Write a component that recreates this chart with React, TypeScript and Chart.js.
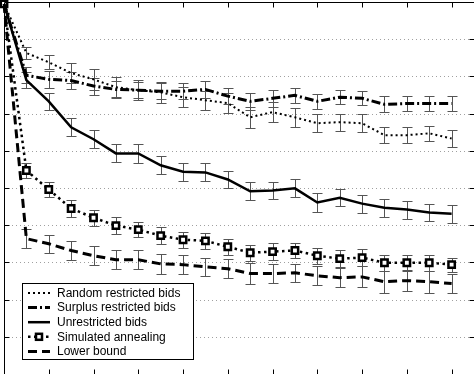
import React, { useEffect, useRef } from "react";
import { Chart, registerables } from "chart.js";

Chart.register(...registerables);

const rounds = [0, 1, 2, 3, 4, 5, 6, 7, 8, 9, 10, 11, 12, 13, 14, 15, 16, 17, 18, 19, 20];
const xTickValues = [2, 4, 6, 8, 10, 12, 14, 16, 18, 20];
const yTickValues = [1, 2, 3, 4, 5, 6, 7, 8, 9];

const seriesNames = [
  "Random restricted bids",
  "Surplus restricted bids",
  "Unrestricted bids",
  "Simulated annealing",
  "Lower bound",
];

const randomRestricted = [9.95, 8.63, 8.38, 8.09, 7.92, 7.71, 7.63, 7.57, 7.44, 7.36, 7.28, 6.9, 7.04, 6.9, 6.74, 6.77, 6.74, 6.42, 6.42, 6.47, 6.33];
const surplusRestricted = [9.95, 8.03, 7.92, 7.89, 7.74, 7.65, 7.63, 7.6, 7.6, 7.65, 7.47, 7.33, 7.41, 7.49, 7.33, 7.44, 7.41, 7.25, 7.27, 7.27, 7.27];
const unrestricted = [9.95, 7.9, 7.33, 6.63, 6.31, 5.93, 5.93, 5.61, 5.44, 5.42, 5.23, 4.91, 4.93, 4.99, 4.61, 4.74, 4.58, 4.47, 4.42, 4.34, 4.31];
const simulatedAnnealing = [9.95, 5.47, 4.96, 4.45, 4.2, 3.99, 3.88, 3.72, 3.61, 3.58, 3.42, 3.26, 3.29, 3.32, 3.18, 3.1, 3.13, 2.99, 2.99, 2.99, 2.94];
const lowerBound = [9.95, 3.64, 3.5, 3.32, 3.18, 3.07, 3.07, 2.96, 2.94, 2.88, 2.83, 2.7, 2.7, 2.72, 2.64, 2.59, 2.61, 2.48, 2.51, 2.48, 2.43];

const randomErr = [0, 0.16, 0.19, 0.27, 0.28, 0.27, 0.26, 0.28, 0.27, 0.26, 0.27, 0.28, 0.26, 0.25, 0.24, 0.23, 0.24, 0.22, 0.22, 0.21, 0.22];
const surplusErr = [0, 0.21, 0.22, 0.24, 0.23, 0.22, 0.22, 0.21, 0.22, 0.23, 0.22, 0.22, 0.23, 0.21, 0.2, 0.19, 0.19, 0.21, 0.2, 0.2, 0.2];
const unrestrictedErr = [0, 0.22, 0.23, 0.24, 0.24, 0.24, 0.25, 0.24, 0.24, 0.24, 0.24, 0.24, 0.23, 0.24, 0.25, 0.23, 0.24, 0.24, 0.24, 0.24, 0.24];
const annealingErr = [0, 0.2, 0.2, 0.22, 0.21, 0.22, 0.21, 0.22, 0.22, 0.21, 0.22, 0.22, 0.23, 0.21, 0.22, 0.23, 0.22, 0.21, 0.22, 0.22, 0.19];
const lowerErr = [0, 0.26, 0.25, 0.26, 0.25, 0.25, 0.25, 0.26, 0.26, 0.25, 0.26, 0.29, 0.25, 0.25, 0.26, 0.26, 0.28, 0.3, 0.29, 0.3, 0.26];

const xMin = 0;
const xMax = 21;
const yMin = 0;
const yMax = 10;

const seriesValues = [randomRestricted, surplusRestricted, unrestricted, simulatedAnnealing, lowerBound];
const seriesErrors = [randomErr, surplusErr, unrestrictedErr, annealingErr, lowerErr];

const styles = [
  { width: 2, dash: [2, 3], marker: false },
  { width: 3, dash: [9, 3, 2, 3], marker: false },
  { width: 2.5, dash: [], marker: false },
  { width: 2.5, dash: [2.5, 3.5], marker: true },
  { width: 3, dash: [9, 5], marker: false },
];

const FONT = "12px 'Liberation Sans', Arial, Helvetica, sans-serif";

const gridAndErrorPlugin = {
  id: "gridAndErrors",
  beforeDatasetsDraw(chart: any) {
    const ctx = chart.ctx;
    const a = chart.chartArea;
    const xs = chart.scales.x;
    const ys = chart.scales.y;
    ctx.save();
    ctx.strokeStyle = "#a0a0a0";
    ctx.lineWidth = 1;
    ctx.setLineDash([1, 3]);
    ctx.beginPath();
    yTickValues.forEach((v) => {
      const py = Math.round(ys.getPixelForValue(v)) + 0.5;
      ctx.moveTo(a.left, py);
      ctx.lineTo(a.right, py);
    });
    ctx.stroke();
    ctx.strokeStyle = "#555555";
    ctx.setLineDash([]);
    ctx.beginPath();
    seriesValues.forEach((vals, si) => {
      const errs = seriesErrors[si];
      vals.forEach((v, i) => {
        const e = errs[i];
        if (!e) return;
        const px = Math.round(xs.getPixelForValue(rounds[i])) + 0.5;
        const y1 = Math.round(ys.getPixelForValue(v + e)) + 0.5;
        const y2 = Math.round(ys.getPixelForValue(v - e)) + 0.5;
        ctx.moveTo(px, y1);
        ctx.lineTo(px, y2);
        ctx.moveTo(px - 5, y1);
        ctx.lineTo(px + 5, y1);
        ctx.moveTo(px - 5, y2);
        ctx.lineTo(px + 5, y2);
      });
    });
    ctx.stroke();
    ctx.restore();
  },
};

const framePlugin = {
  id: "frameAndLegend",
  afterDraw(chart: any) {
    const ctx = chart.ctx;
    const a = chart.chartArea;
    const xs = chart.scales.x;
    const ys = chart.scales.y;
    ctx.save();
    ctx.setLineDash([]);
    ctx.strokeStyle = "#000";
    ctx.lineWidth = 1;
    const l = Math.round(a.left) + 0.5;
    const t = Math.round(a.top) + 0.5;
    const r = Math.round(a.right) + 0.5;
    const b = Math.round(a.bottom) + 0.5;
    ctx.beginPath();
    ctx.moveTo(l, b);
    ctx.lineTo(l, t);
    ctx.lineTo(r, t);
    ctx.lineTo(r, b);
    ctx.lineTo(l, b);
    yTickValues.forEach((v) => {
      const py = Math.round(ys.getPixelForValue(v)) + 0.5;
      ctx.moveTo(l, py);
      ctx.lineTo(l + 5, py);
      ctx.moveTo(r, py);
      ctx.lineTo(r - 5, py);
    });
    xTickValues.forEach((v) => {
      const px = Math.round(xs.getPixelForValue(v)) + 0.5;
      ctx.moveTo(px, t);
      ctx.lineTo(px, t + 5);
      ctx.moveTo(px, b);
      ctx.lineTo(px, b - 5);
    });
    ctx.stroke();

    const bx = 22.5, by = 283.5, bw = 171, bh = 76;
    ctx.fillStyle = "#fff";
    ctx.fillRect(bx, by, bw, bh);
    ctx.strokeStyle = "#000";
    ctx.lineWidth = 1;
    ctx.strokeRect(bx, by, bw, bh);
    ctx.font = FONT;
    ctx.textBaseline = "middle";
    ctx.fillStyle = "#000";
    seriesNames.forEach((name, i) => {
      const cy = 293 + i * 14.6;
      const st = styles[i];
      ctx.beginPath();
      ctx.lineWidth = st.width;
      ctx.setLineDash(st.dash);
      ctx.moveTo(28, cy);
      ctx.lineTo(50, cy);
      ctx.stroke();
      ctx.setLineDash([]);
      if (st.marker) {
        ctx.lineWidth = 2.5;
        ctx.fillStyle = "#fff";
        ctx.fillRect(36, cy - 3, 6, 6);
        ctx.strokeRect(36, cy - 3, 6, 6);
        ctx.fillStyle = "#000";
      }
      ctx.fillText(name, 57, cy + 0.5);
    });
    ctx.restore();
  },
};

export default function App() {
  const ref = useRef<HTMLCanvasElement | null>(null);
  useEffect(() => {
    if (!ref.current) return;
    const datasets = seriesNames.map((name, i) => ({
      label: name,
      data: rounds.map((r, j) => ({ x: r, y: seriesValues[i][j] })),
      borderColor: "#000",
      borderWidth: styles[i].width,
      borderDash: styles[i].dash,
      backgroundColor: "#fff",
      pointRadius: styles[i].marker ? 4.5 : 0,
      pointStyle: "rect",
      pointBorderWidth: 2.5,
      pointBorderColor: "#000",
      pointBackgroundColor: "#fff",
      tension: 0,
      fill: false,
      clip: false,
    }));
    const chart = new Chart(ref.current, {
      type: "line",
      data: { datasets },
      options: {
        responsive: false,
        animation: false,
        devicePixelRatio: 1,
        layout: { autoPadding: false, padding: { left: 4, top: 2, right: 0, bottom: 0 } },
        plugins: { legend: { display: false }, tooltip: { enabled: false } },
        scales: {
          x: { type: "linear", display: false, min: xMin, max: xMax },
          y: { type: "linear", display: false, min: yMin, max: yMax },
        },
      },
      plugins: [gridAndErrorPlugin, framePlugin],
    } as any);
    return () => chart.destroy();
  }, []);
  return (
    <div style={{ position: "fixed", left: 0, top: 0, width: 474, height: 374, background: "#fff" }}>
      <canvas ref={ref} width={474} height={374} style={{ display: "block" }} />
    </div>
  );
}
